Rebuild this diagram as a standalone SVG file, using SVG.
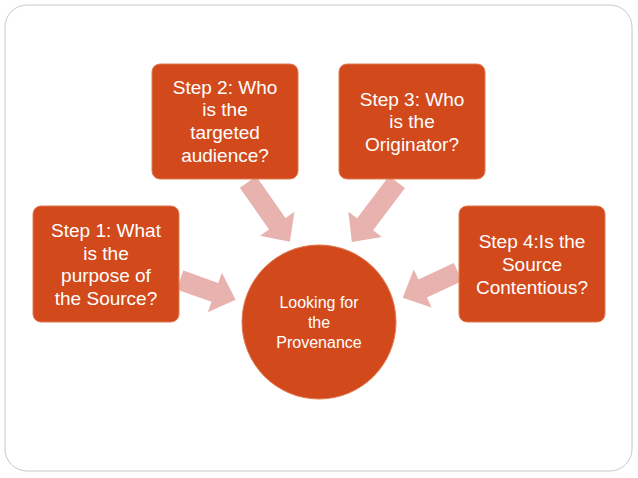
<svg xmlns="http://www.w3.org/2000/svg" width="638" height="478" viewBox="0 0 638 478">
<style>
.box{fill:#D2491C;stroke:#E07A50;stroke-width:1}
.t{font-family:"Liberation Sans",Arial,sans-serif;font-size:19px;fill:#fff;text-anchor:middle}
.c{font-family:"Liberation Sans",Arial,sans-serif;font-size:16px;fill:#fff;text-anchor:middle}
.ar{fill:#E8B2AE}
</style>
<rect x="0" y="0" width="638" height="478" fill="#fff"/>
<rect x="5" y="5" width="627" height="466" rx="22" fill="#fff" stroke="#c8c8c8" stroke-width="1"/>
<g id="connectors">
<polygon class="ar" transform="translate(180,280) rotate(19.6)" points="0,-10 37,-10 37,-21 59,0 37,21 37,10 0,10"/>
<polygon class="ar" transform="translate(248,182) rotate(55)" points="0,-10 51,-10 51,-21 73,0 51,21 51,10 0,10"/>
<polygon class="ar" transform="translate(397,182) rotate(127)" points="0,-10 53,-10 53,-21 75,0 53,21 53,10 0,10"/>
<polygon class="ar" transform="translate(458,272) rotate(155)" points="0,-10 39,-10 39,-21 61,0 39,21 39,10 0,10"/>
</g>
<g id="step1"><rect class="box" x="33" y="206" width="146" height="116" rx="8"/>
<text class="t"><tspan x="106" y="237">Step 1: What</tspan><tspan x="106" y="260">is the</tspan><tspan x="106" y="282">purpose of</tspan><tspan x="106" y="305">the Source?</tspan></text></g>
<g id="step2"><rect class="box" x="152" y="64" width="146" height="115" rx="8"/>
<text class="t"><tspan x="225" y="94">Step 2: Who</tspan><tspan x="225" y="116">is the</tspan><tspan x="225" y="139">targeted</tspan><tspan x="225" y="162">audience?</tspan></text></g>
<g id="step3"><rect class="box" x="339" y="64" width="146" height="115" rx="8"/>
<text class="t"><tspan x="412" y="106">Step 3: Who</tspan><tspan x="412" y="128">is the</tspan><tspan x="412" y="151">Originator?</tspan></text></g>
<g id="step4"><rect class="box" x="459" y="206" width="146" height="116" rx="8"/>
<text class="t"><tspan x="532" y="248">Step 4:Is the</tspan><tspan x="532" y="271">Source</tspan><tspan x="532" y="294">Contentious?</tspan></text></g>
<g id="center"><circle cx="319" cy="322" r="77" fill="#D2491C" stroke="#E07A50"/>
<text class="c"><tspan x="319" y="308">Looking for</tspan><tspan x="319" y="328">the</tspan><tspan x="319" y="348">Provenance</tspan></text></g>
</svg>
